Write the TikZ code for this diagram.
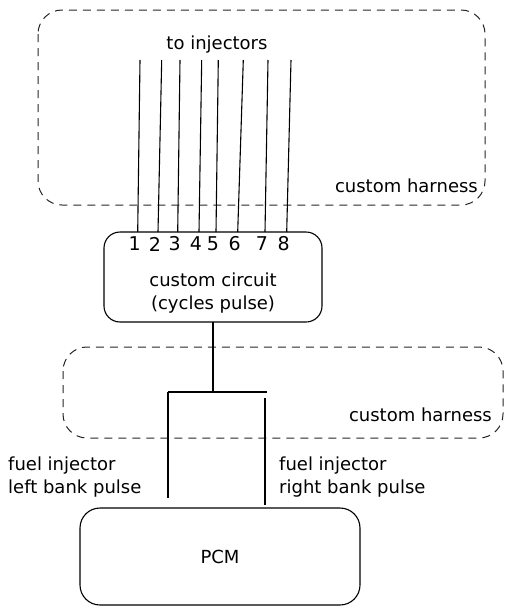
\documentclass[tikz,border=0pt]{standalone}
\usepackage{fontspec}
\setmainfont{DejaVu Sans}
\begin{document}
\begin{tikzpicture}[x=1pt,y=-1pt,
  harness/.style={draw=black!85, dashed, dash pattern=on 8pt off 6pt, line width=1pt, rounded corners=24pt},
  box/.style={draw=black, line width=1.1pt, rounded corners=16pt},
  wire/.style={draw=black, line width=1.1pt},
  lbl/.style={font=\fontsize{18}{23.5}\selectfont, inner sep=0pt},
  num/.style={font=\fontsize{19}{20}\selectfont, inner sep=0pt}]
\useasboundingbox (0,0) rectangle (513,616);
% top harness
\draw[harness] (38,10) rectangle (485,205);
\node[lbl, anchor=east] (h1) at (478,186) {custom harness};
\node[lbl] (toinj) at (217,45) {to injectors};
% custom circuit box
\draw[box] (104,232) rectangle (322,322);
\node[lbl, align=center] (cctext) at (213,293) {custom circuit\\(cycles pulse)};
% wires
\foreach \i/\xt/\xb in {1/140/137.7, 2/161.7/158, 3/180/177.7, 4/201.7/199, 5/218.3/216, 6/243.3/237.7, 7/268/265, 8/291/286.7} {
  \coordinate (t\i) at (\xt,60);
  \coordinate (b\i) at (\xb,232);
  \draw[wire] (t\i) -- (b\i);
  \node[num] (n\i) at (\xb-3,244) {\i};
}
% second harness
\draw[harness] (63,347) rectangle (503,438);
\node[lbl, anchor=east] (h2) at (492,415) {custom harness};
% connection down
\coordinate (cb) at (213,322);
\coordinate (cj) at (213,392);
\coordinate (jl) at (168,392);
\coordinate (jr) at (267,392);
\coordinate (lb) at (168,498);
\coordinate (rt) at (265,398);
\coordinate (rb) at (265,505);
\draw[wire] (cb) -- (cj);
\draw[wire] (jl) -- (jr);
\draw[wire] (jl) -- (lb);
\draw[wire] (rt) -- (rb);
\node[lbl, align=left, anchor=west] (lt) at (8,477) {fuel injector\\left bank pulse};
\node[lbl, align=left, anchor=west] (rtxt) at (279,477) {fuel injector\\right bank pulse};
% PCM
\draw[box, rounded corners=20pt] (80,508) rectangle (360,605);
\node[lbl] (pcm) at (220,557) {PCM};
\end{tikzpicture}
\end{document}
